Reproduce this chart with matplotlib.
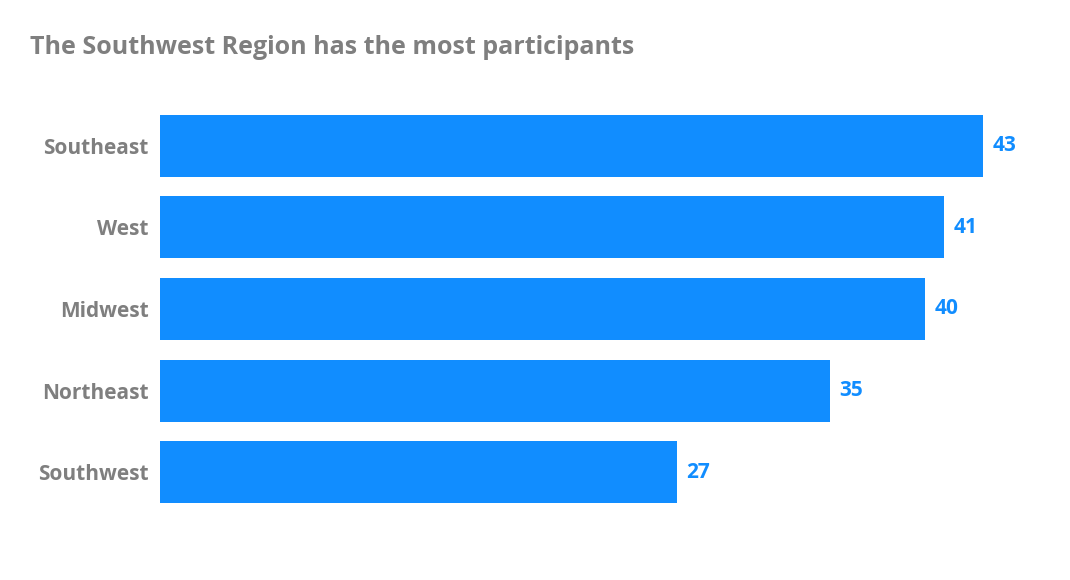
import matplotlib.pyplot as plt

regions = ['Southeast', 'West', 'Midwest', 'Northeast', 'Southwest']
participants = [43, 41, 40, 35, 27]

plt.rcParams['font.family'] = ['Open Sans', 'DejaVu Sans']

fig = plt.figure(figsize=(10.7, 5.8), dpi=100)
ax = fig.add_axes([160 / 1070, 1 - 513 / 580, 880 / 1070, 408 / 580])

ypos = list(range(len(regions)))[::-1]
ax.barh(ypos, participants, height=0.76, color='#118DFF')
for y, v in zip(ypos, participants):
    ax.text(v + 0.5, y, str(v), va='center', ha='left', color='#118DFF',
            fontsize=15, fontweight='bold')

ax.set_xlim(0, 46)
ax.set_ylim(-0.5, 4.5)
ax.set_yticks(ypos)
ax.set_yticklabels(regions, fontsize=15, fontweight='bold', color='#7f7f7f')
ax.tick_params(axis='y', length=0, pad=8)
ax.set_xticks([])
for s in ax.spines.values():
    s.set_visible(False)

fig.text(30 / 1070, 1 - 48 / 580, 'The Southwest Region has the most participants',
         fontsize=18, fontweight='bold', color='#7f7f7f', va='center', ha='left')

fig.savefig('out.png')
